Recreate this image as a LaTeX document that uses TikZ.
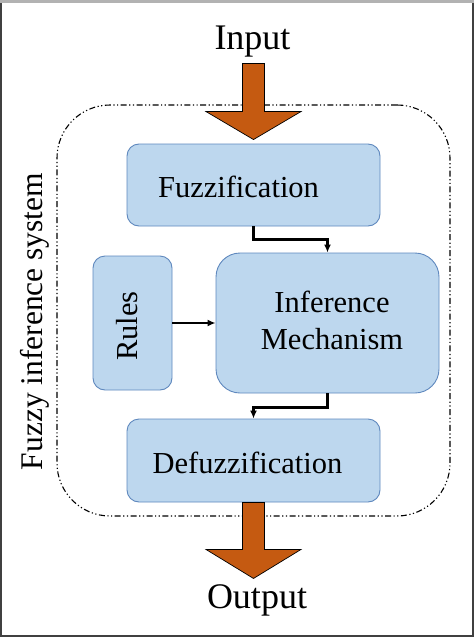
\documentclass[tikz,border=0pt]{standalone}
\usepackage{fontspec}
\setmainfont{Liberation Serif}
\usetikzlibrary{arrows.meta}
\definecolor{boxfill}{HTML}{BDD7EE}
\definecolor{boxline}{HTML}{5F88BE}
\definecolor{arrowfill}{HTML}{C55A11}
\tikzset{
  block/.style={draw=boxline, fill=boxfill, line width=0.9pt, inner sep=0pt, rounded corners=12pt},
  lbl/.style={inner sep=0pt, anchor=base, font=\fontsize{30.5}{36}\selectfont},
  bigarrow/.style={draw=black, fill=arrowfill, line width=0.7pt, line join=miter},
  conn/.style={draw=black, line width=2.2pt, -{Latex[length=8pt,width=7pt]}},
}
\begin{document}
\begin{tikzpicture}[x=1pt, y=-1pt]
  \useasboundingbox (0,0) rectangle (474,637);
  \fill[white] (0,0) rectangle (474,637);
  % frame
  \draw[line width=2pt, black!75] (1,2) -- (1,636) -- (473,636) -- (473,2);
  \draw[line width=3pt, black!30] (0,1.5) -- (474,1.5);

  % system
  \node[draw, line width=1.1pt, rounded corners=53pt,
        dash pattern=on 6pt off 2.5pt on 1.2pt off 2.5pt on 1.2pt off 2.5pt,
        minimum width=393pt, minimum height=411pt] (fis) at (253.5,310.5) {};
  \node[lbl, rotate=90, font=\fontsize{31.5}{36}\selectfont] (fistext) at (42,321.5) {Fuzzy inference system};

  % blocks
  \node[block, minimum width=253pt, minimum height=82pt] (fuzz) at (253.5,185) {};
  \node[block, minimum width=79pt, minimum height=134pt] (rules) at (132.5,323) {};
  \node[block, rounded corners=24pt, minimum width=223pt, minimum height=140pt] (infer) at (327.5,323) {};
  \node[block, minimum width=253pt, minimum height=83pt] (defuzz) at (253.5,460.5) {};

  \node[lbl] (fuzztext) at (238.5,197) {Fuzzification};
  \node[lbl, rotate=90] (rulestext) at (137,326) {Rules};
  \node[lbl] (infertext) at (332,312) {Inference};
  \node[lbl] (mechtext) at (332,349) {Mechanism};
  \node[lbl] (defuzztext) at (247.5,473) {Defuzzification};

  % input and output
  \node[lbl, font=\fontsize{36}{40}\selectfont] (input) at (252.5,49) {Input};
  \node[lbl, font=\fontsize{36}{40}\selectfont] (output) at (257,608) {Output};

  \draw[bigarrow] (fuzz.north) ++(0,-4) -- ++(47.5,-28) -- ++(-36.5,0) -- ++(0,-48)
    -- ++(-22,0) -- ++(0,48) -- ++(-36.5,0) -- cycle;
  \draw[bigarrow] (defuzz.south) ++(-11,0) -- ++(0,47) -- ++(-36.5,0) -- ++(47.5,29)
    -- ++(47.5,-29) -- ++(-36.5,0) -- ++(0,-47) -- cycle;

  % connections
  \draw[conn] (fuzz.south) -- ++(0,13) -| (infer.north);
  \draw[conn] (rules.east) -- (infer.west);
  \draw[conn] (infer.south) -- ++(0,14) -| (defuzz.north);
\end{tikzpicture}
\end{document}
